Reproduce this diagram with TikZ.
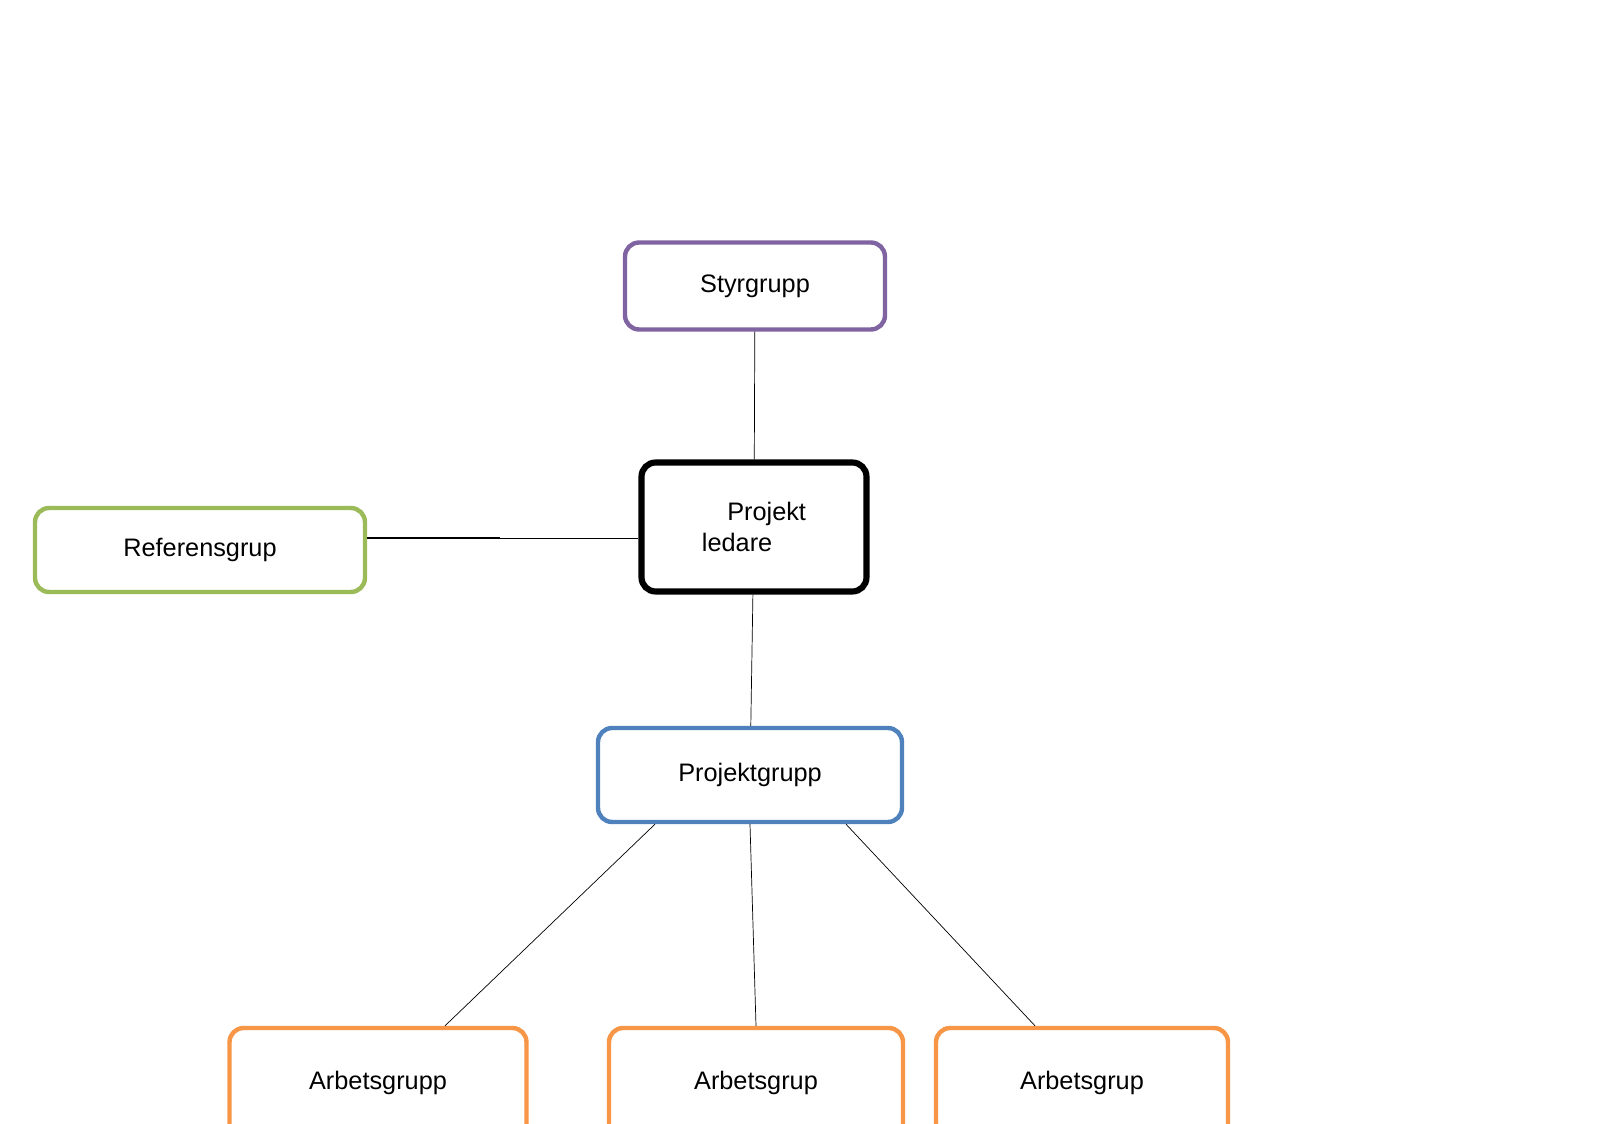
\documentclass[tikz,border=0pt]{standalone}
\usepackage{fontspec}
\setmainfont{Liberation Sans}
\usetikzlibrary{positioning,calc}
\begin{document}
\begin{tikzpicture}[x=0.02cm,y=-0.02cm]

    \tikzstyle{box} = [rectangle, rounded corners=8pt, line width=2.5pt, fill=white, inner sep=0pt, font=\Large]

    \useasboundingbox (0,0) rectangle (1600,1124);
    \clip (0,0) rectangle (1600,1124);

    \node [box, draw={rgb,255:red,128;green,100;blue,162}, minimum width=5.2cm, minimum height=1.74cm] (styr) at (755,286) {Styrgrupp};
    \node [box, draw=black, line width=3.5pt, minimum width=4.5cm, minimum height=2.58cm, align=left] (ledare) at (754,527) {\quad Projekt\\ledare\quad\quad};
    \node [box, draw={rgb,255:red,155;green,187;blue,89}, minimum width=6.6cm, minimum height=1.68cm] (ref) at (200,550) {Referensgrup};
    \node [box, draw={rgb,255:red,79;green,129;blue,189}, minimum width=6.08cm, minimum height=1.88cm] (pgrupp) at (750,775) {Projektgrupp};

    \node [box, draw={rgb,255:red,247;green,150;blue,70}, minimum width=5.94cm, minimum height=2.2cm] (arb1) at (378,1083) {Arbetsgrupp};
    \node [box, draw={rgb,255:red,247;green,150;blue,70}, minimum width=5.88cm, minimum height=2.2cm] (arb2) at (756,1083) {Arbetsgrup};
    \node [box, draw={rgb,255:red,247;green,150;blue,70}, minimum width=5.84cm, minimum height=2.2cm] (arb3) at (1082,1083) {Arbetsgrup};

    \coordinate (mid) at (500,538);

    \draw (styr) -- (ledare);
    \draw [line width=1.5pt] (ref.east |- mid) -- (mid);
    \draw [thin] (mid) -- (mid -| ledare.west);
    \draw (ledare) -- (pgrupp);
    \draw (pgrupp.south) -- (arb2.north);
    \draw ($(pgrupp.south)+(-95,0)$) -- ($(arb1.north)+(67,0)$);
    \draw ($(pgrupp.south)+(96,0)$) -- ($(arb3.north)+(-47,0)$);

\end{tikzpicture}
\end{document}
